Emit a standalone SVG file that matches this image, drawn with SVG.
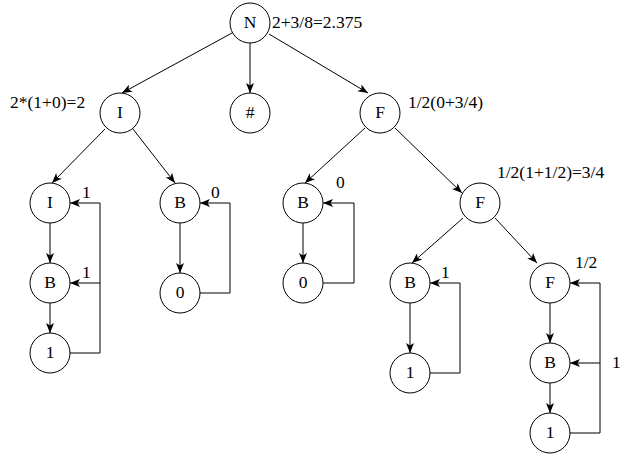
<svg xmlns="http://www.w3.org/2000/svg" width="631" height="456" viewBox="0 0 631 456" font-family="'Liberation Serif', 'DejaVu Serif', serif" font-size="17.5">
<defs>
<marker id="arr" markerUnits="userSpaceOnUse" markerWidth="11" markerHeight="9" refX="10" refY="4" orient="auto" overflow="visible">
<path d="M0,0 L10,4 L0,8 L2.5,4 z" fill="#000"/>
</marker>
<style>
.n circle{fill:#fff;stroke:#000;stroke-width:1}
text{font-family:'Liberation Serif','DejaVu Serif',serif;font-size:17.5px;fill:#000}
.n text{text-anchor:middle}
#edges path,#edges line{fill:none;stroke:#000;stroke-width:1}
.a{marker-end:url(#arr)}
</style>
</defs>
<rect width="631" height="456" fill="#fff"/>
<g id="edges">
<line class="a" x1="232" y1="33" x2="122" y2="93"/>
<line class="a" x1="250" y1="43" x2="250" y2="93"/>
<line class="a" x1="269" y1="34" x2="368" y2="93"/>
<line class="a" x1="105" y1="129" x2="52" y2="183"/>
<line class="a" x1="133" y1="129" x2="175" y2="183"/>
<line class="a" x1="365" y1="128" x2="305" y2="183"/>
<line class="a" x1="395" y1="128" x2="462" y2="193"/>
<line class="a" x1="463" y1="218" x2="412" y2="263"/>
<line class="a" x1="495" y1="218" x2="537" y2="263"/>
<line class="a" x1="50" y1="223" x2="50" y2="263"/>
<line class="a" x1="50" y1="303" x2="50" y2="333"/>
<line class="a" x1="180" y1="223" x2="180" y2="273"/>
<line class="a" x1="303" y1="223" x2="303" y2="263"/>
<line class="a" x1="410" y1="303" x2="410" y2="353"/>
<line class="a" x1="550" y1="303" x2="550" y2="343"/>
<line class="a" x1="550" y1="383" x2="550" y2="413"/>
<path class="a" d="M70,353 H100 V203 H70"/>
<path class="a" d="M100,283 H70"/>
<path class="a" d="M200,293 H230 V203 H200"/>
<path class="a" d="M323,283 H354 V203 H323"/>
<path class="a" d="M430,373 H460 V283 H430"/>
<path class="a" d="M570,433 H600 V283 H570"/>
<path class="a" d="M600,363 H570"/>
</g>
<g id="nN" class="n"><circle cx="250" cy="23" r="20"/><text x="250" y="28">N</text></g>
<g id="nI1" class="n"><circle cx="120" cy="113" r="20"/><text x="120" y="118">I</text></g>
<g id="nHash" class="n"><circle cx="250" cy="113" r="20"/><text x="250" y="118">#</text></g>
<g id="nF1" class="n"><circle cx="380" cy="113" r="20"/><text x="380" y="118">F</text></g>
<g id="nI2" class="n"><circle cx="50" cy="203" r="20"/><text x="50" y="208">I</text></g>
<g id="nB1" class="n"><circle cx="50" cy="283" r="20"/><text x="50" y="288">B</text></g>
<g id="n11" class="n"><circle cx="50" cy="353" r="20"/><text x="50" y="358">1</text></g>
<g id="nB2" class="n"><circle cx="180" cy="203" r="20"/><text x="180" y="208">B</text></g>
<g id="n01" class="n"><circle cx="180" cy="293" r="20"/><text x="180" y="298">0</text></g>
<g id="nB3" class="n"><circle cx="303" cy="203" r="20"/><text x="303" y="208">B</text></g>
<g id="n02" class="n"><circle cx="303" cy="283" r="20"/><text x="303" y="288">0</text></g>
<g id="nF2" class="n"><circle cx="480" cy="203" r="20"/><text x="480" y="208">F</text></g>
<g id="nB4" class="n"><circle cx="410" cy="283" r="20"/><text x="410" y="288">B</text></g>
<g id="n12" class="n"><circle cx="410" cy="373" r="20"/><text x="410" y="378">1</text></g>
<g id="nF3" class="n"><circle cx="550" cy="283" r="20"/><text x="550" y="288">F</text></g>
<g id="nB5" class="n"><circle cx="550" cy="363" r="20"/><text x="550" y="368">B</text></g>
<g id="n13" class="n"><circle cx="550" cy="433" r="20"/><text x="550" y="438">1</text></g>
<g id="labels">
<text x="272" y="28">2+3/8=2.375</text>
<text x="10" y="108">2*(1+0)=2</text>
<text x="408" y="108">1/2(0+3/4)</text>
<text x="497" y="178">1/2(1+1/2)=3/4</text>
<text x="82" y="198">1</text>
<text x="82" y="278">1</text>
<text x="211" y="198">0</text>
<text x="336" y="188">0</text>
<text x="441" y="278">1</text>
<text x="575" y="268">1/2</text>
<text x="612" y="368">1</text>
</g>
</svg>
